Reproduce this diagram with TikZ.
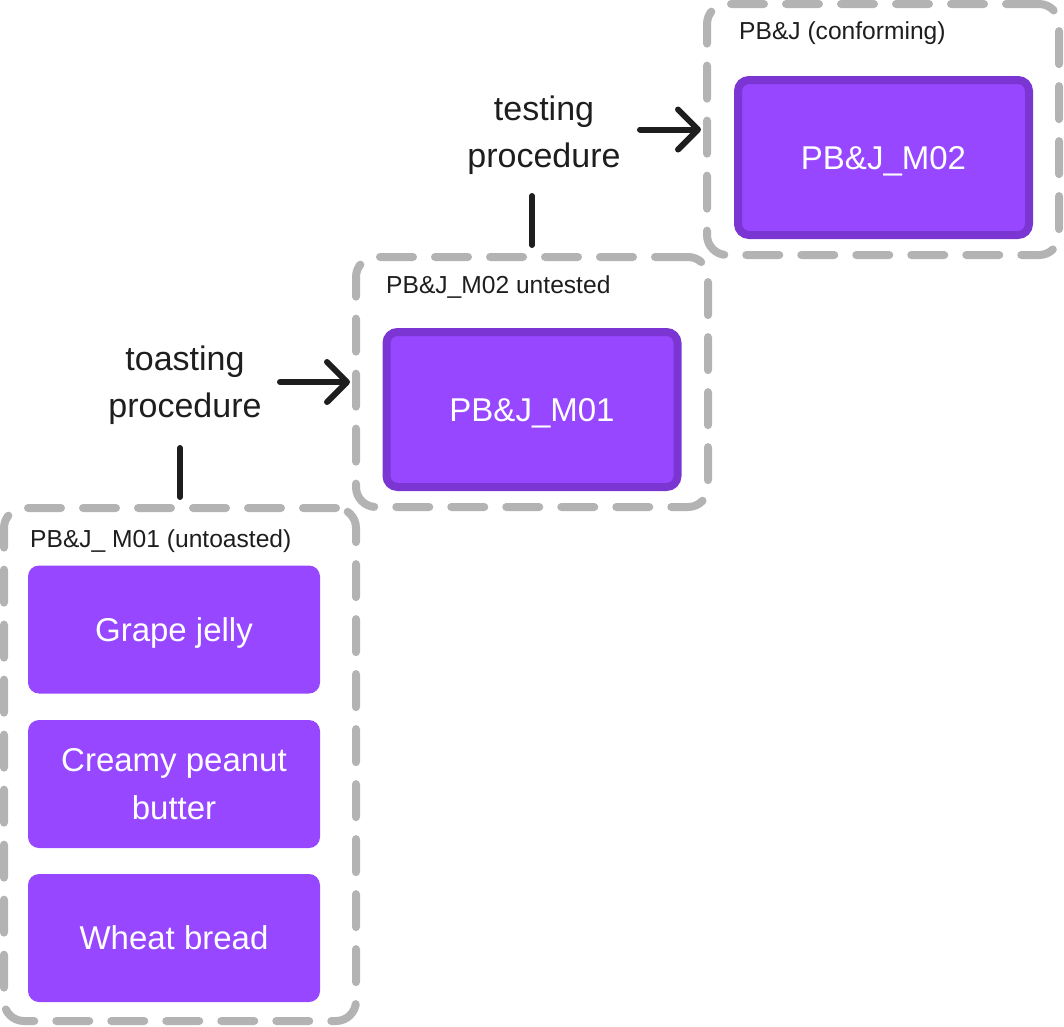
\documentclass[tikz,border=0pt]{standalone}
\usepackage{fontspec}
\setmainfont{Liberation Sans}
\usetikzlibrary{arrows.meta}
\definecolor{dashgray}{HTML}{B3B3B3}
\definecolor{purp}{HTML}{9747FF}
\definecolor{purpdark}{HTML}{7B35D2}
\definecolor{ink}{HTML}{1E1E1E}
\tikzset{
  container/.style={rectangle, draw=dashgray, line width=8pt, rounded corners=20pt,
    dash pattern=on 33pt off 22pt, line cap=round, inner sep=0pt},
  item/.style={rectangle, fill=purp, rounded corners=11pt, text=white, align=center,
    inner sep=0pt, minimum width=292pt, minimum height=128pt,
    text height=23.6pt, text depth=0pt,
    font=\fontsize{33}{48}\selectfont},
  itemb/.style={item, draw=purpdark, line width=8pt, minimum width=291pt, minimum height=155pt},
  grouplabel/.style={anchor=base west, text=ink, inner sep=0pt, font=\fontsize{24.6}{28}\selectfont},
  proclabel/.style={text=ink, align=center, inner sep=0pt, font=\fontsize{34}{47}\selectfont},
  conn/.style={draw=ink, line width=6pt, line cap=round},
  connarrow/.style={conn, -{Straight Barb[length=20pt, width=40pt, round]}},
}
\begin{document}
\begin{tikzpicture}[x=1pt,y=-1pt]
\useasboundingbox (0,0) rectangle (1064,1026);
% containers
\node[container, minimum width=352pt, minimum height=251pt] (c3) at (883,129.5) {};
\node[container, minimum width=352pt, minimum height=250pt] (c2) at (532,382) {};
\node[container, minimum width=352pt, minimum height=513pt] (c1) at (180,764.5) {};
% group labels
\node[grouplabel] (l3) at (739,39) {PB\&J (conforming)};
\node[grouplabel] (l2) at (386,293) {PB\&J\_M02 untested};
\node[grouplabel] (l1) at (30,547) {PB\&J\_ M01 (untoasted)};
% items
\node[itemb] (m02) at (883.5,157.5) {PB\&J\_M02};
\node[itemb] (m01) at (532,409.5) {PB\&J\_M01};
\node[item] (jelly) at (174,629.5) {Grape jelly};
\node[item, text height=71.6pt] (pb) at (174,784) {Creamy peanut\\butter};
\node[item] (bread) at (174,938) {Wheat bread};
% procedure labels
\node[proclabel, anchor=base] (toast) at (185,417) {toasting\\procedure};
\node[proclabel, anchor=base] (test) at (544,167) {testing\\procedure};
% connectors
\coordinate (t0) at (180,497);
\coordinate (t1) at (180,448);
\coordinate (t2) at (280,382);
\coordinate (s0) at (532,245);
\coordinate (s1) at (532,196);
\coordinate (s2) at (640,129.5);
\draw[conn] (t0) -- (t1);
\draw[connarrow, shorten >=2pt] (t2) -- (c2.west);
\draw[conn] (s0) -- (s1);
\draw[connarrow, shorten >=2pt] (s2) -- (c3.west);
\end{tikzpicture}
\end{document}
